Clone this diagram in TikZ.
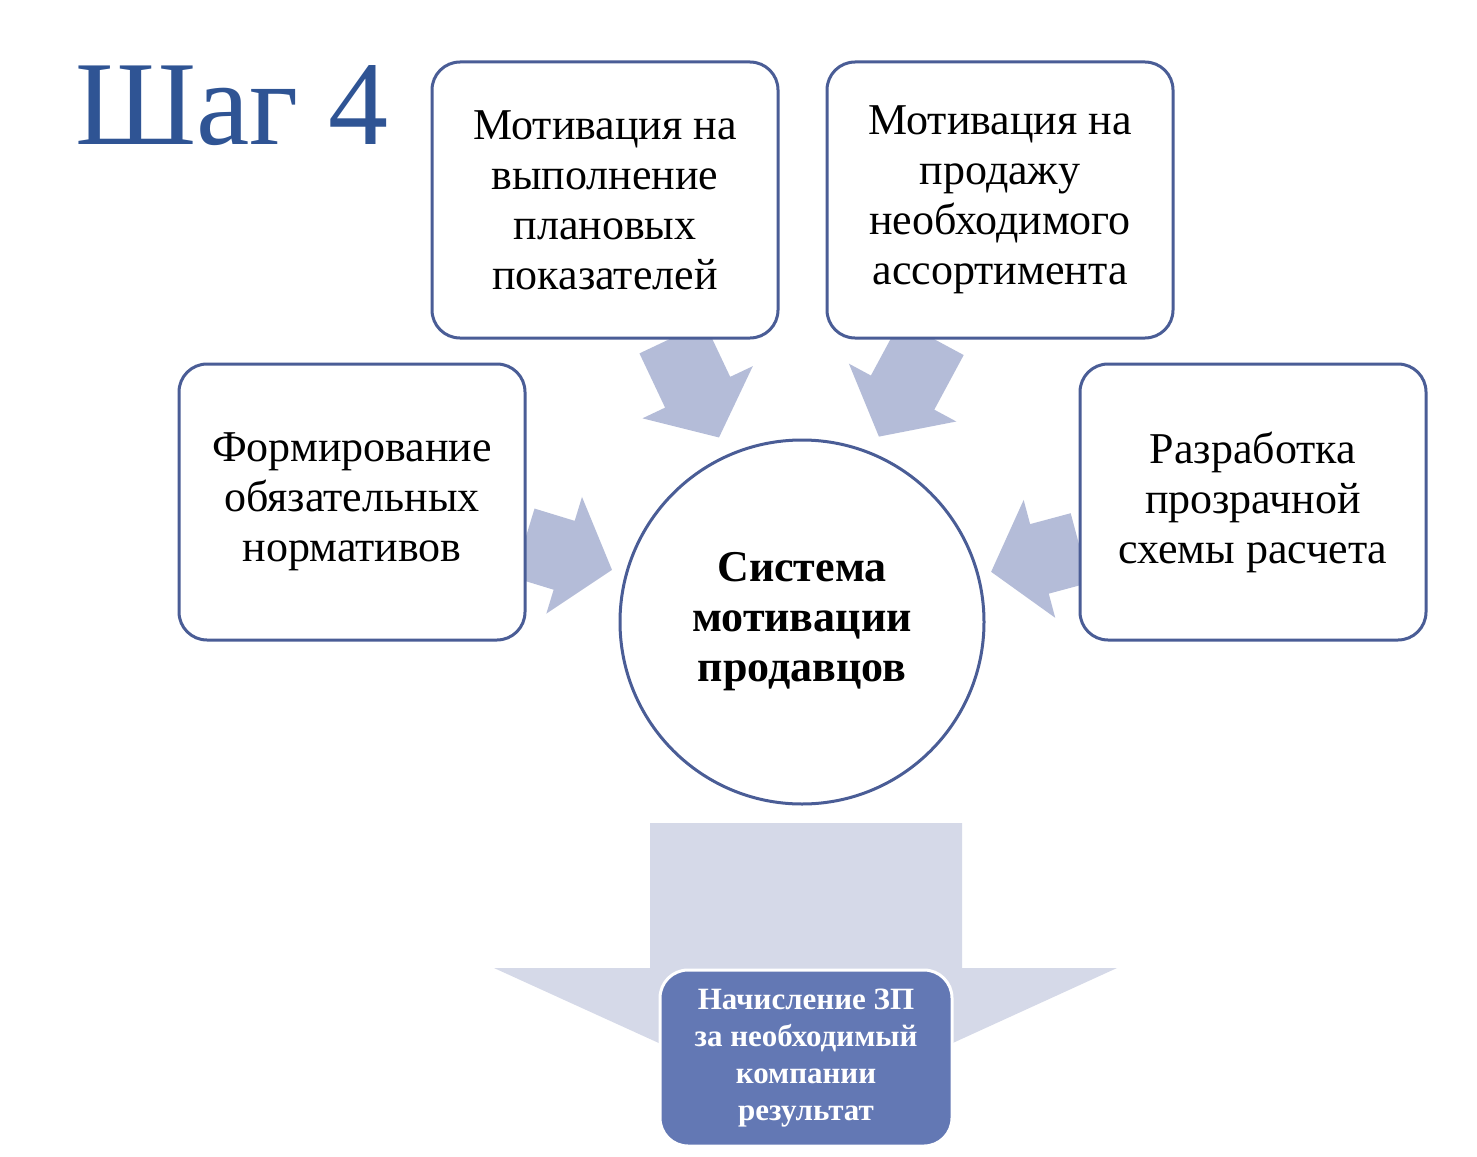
\documentclass[tikz,border=0pt]{standalone}
\usepackage{fontspec}
\setmainfont{Liberation Serif}
\definecolor{bord}{HTML}{4A5D96}
\definecolor{arr}{HTML}{B4BCD8}
\definecolor{big}{HTML}{D5D9E8}
\definecolor{fillb}{HTML}{6378B4}
\definecolor{titc}{HTML}{2F5494}
\newcommand{\blockarr}[6]{% x,y,angle,L,w,H
  \begin{scope}[shift={(#1,#2)},rotate=#3]
  \fill[arr] (0,-#5/2) -- (#4-50,-#5/2) -- (#4-50,-#6/2) -- (#4,0) -- (#4-50,#6/2) -- (#4-50,#5/2) -- (0,#5/2) -- cycle;
  \end{scope}}
\begin{document}
\begin{tikzpicture}[x=0.5pt,y=-0.5pt,
  box/.style={draw=bord,line width=1.5pt,rounded corners=14pt,fill=white,align=center,font=\fontsize{22}{25}\selectfont,inner sep=0pt},
]
\useasboundingbox (0,0) rectangle (1477,1156);
\fill[white] (0,0) rectangle (1477,1156);
\node[text=titc,font=\fontsize{60}{64}\selectfont] (title) at (232,106) {Шаг 4};
% arrows
\blockarr{672}{338}{-64.7}{110}{72}{122}
\blockarr{932}{338}{241.7}{112}{72}{122}
\blockarr{524}{543}{-17}{92}{72}{122}
\blockarr{1080}{548}{195}{92}{72}{122}
% big arrow
\fill[big] (650,823) -- (962,823) -- (962,968) -- (1117,968) -- (806,1110) -- (494,968) -- (650,968) -- cycle;
\node[box,minimum width=173pt,minimum height=138pt] (b1) at (605,200) {Мотивация на\\выполнение\\плановых\\показателей};
\node[box,minimum width=173pt,minimum height=138pt] (b2) at (1000,200) {Мотивация на\\продажу\\необходимого\\ассортимента};
\node[box,minimum width=173pt,minimum height=138pt] (b3) at (352,502) {Формирование\\обязательных\\нормативов};
\node[box,minimum width=173pt,minimum height=138pt] (b4) at (1253,502) {Разработка\\прозрачной\\схемы расчета};
\node[draw=bord,line width=1.5pt,circle,fill=white,minimum size=182pt,align=center,font=\bfseries\fontsize{22}{25}\selectfont] (c) at (802,622) {Система\\мотивации\\продавцов};
\node[draw=white,line width=1.5pt,fill=fillb,rounded corners=14pt,minimum width=146pt,minimum height=88pt,align=center,text=white,font=\bfseries\fontsize{15.5}{18.5}\selectfont,inner sep=0pt] (res) at (806,1058) {Начисление ЗП\\за необходимый\\компании\\результат};
\end{tikzpicture}
\end{document}
